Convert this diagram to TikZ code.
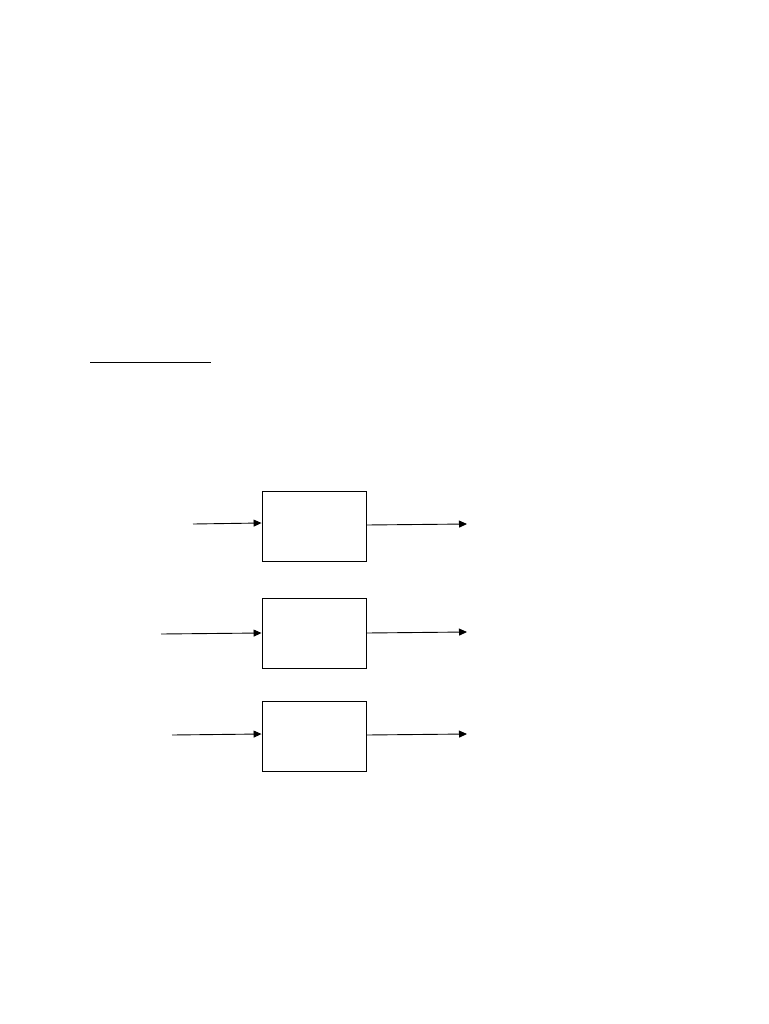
\documentclass[tikz,border=0pt]{standalone}
\usetikzlibrary{arrows.meta}
\begin{document}
\begin{tikzpicture}[x=1pt,y=-1pt,
  blockbox/.style={draw=black,line width=0.9pt,rectangle,minimum width=104pt,minimum height=70pt,inner sep=0pt},
  flow/.style={draw=black,line width=0.9pt,-{Triangle[length=8pt,width=7pt]}},
  rule/.style={draw=black,line width=1pt}]
\useasboundingbox[fill=white] (0,0) rectangle (768,1024);
\node[blockbox] (b1) at (314,526) {};
\node[blockbox] (b2) at (314,633) {};
\node[blockbox] (b3) at (314,736) {};
\coordinate (i1) at (193,524);
\coordinate (i2) at (161,634);
\coordinate (i3) at (172,735);
\coordinate (o1) at (467,524);
\coordinate (o2) at (467,632);
\coordinate (o3) at (467,734);
\coordinate (u1) at (90,362);
\coordinate (u2) at (211,362);
\draw[rule] (u1) -- (u2);
\draw[flow] (i1) -- (b1.west |- 0,523);
\draw[flow] (b1.east |- 0,525) -- (o1);
\draw[flow] (i2) -- (b2.west |- 0,633);
\draw[flow] (b2.east |- 0,633) -- (o2);
\draw[flow] (i3) -- (b3.west |- 0,734);
\draw[flow] (b3.east |- 0,735) -- (o3);
\end{tikzpicture}
\end{document}
